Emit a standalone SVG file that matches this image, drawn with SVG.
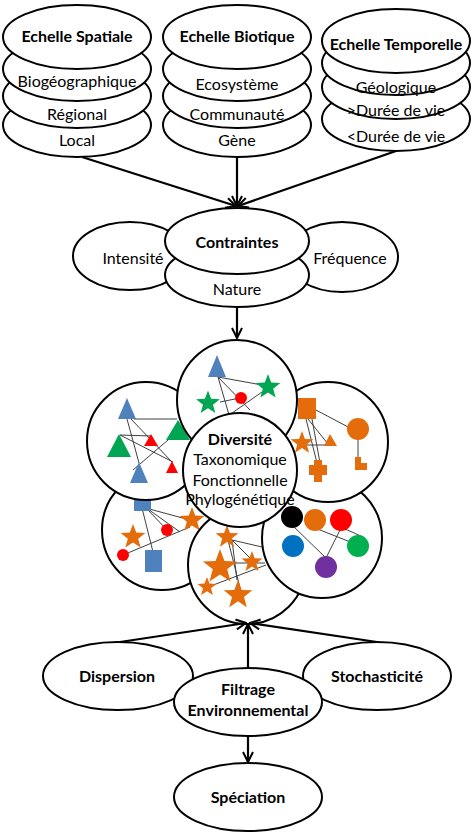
<svg xmlns="http://www.w3.org/2000/svg" xmlns:xlink="http://www.w3.org/1999/xlink" width="474" height="833" viewBox="0 0 474 833">
<style>
  .el { fill: #fff; stroke: #000; stroke-width: 2; }
  .cir { fill: #fff; stroke: #000; stroke-width: 2; }
  .t { font-family: Lato, "Liberation Sans", sans-serif; font-size: 16px; fill: #000; text-anchor: middle; }
  .b { font-weight: bold; }
  .edge { stroke: #000; stroke-width: 2.2; fill: none; marker-end: url(#arr); }
  .ln { stroke: #404040; stroke-width: 1; fill: none; }
  .blue { fill: #4f81bd; }
  .green { fill: #00a651; }
  .red { fill: #ff0000; }
  .orange { fill: #e46c0a; }
</style>
<defs>
  <marker id="arr" viewBox="0 0 12 12" refX="11" refY="6" markerWidth="12" markerHeight="12" markerUnits="userSpaceOnUse" orient="auto">
    <path d="M1,1 L11,6 L1,11" fill="none" stroke="#000" stroke-width="2"/>
  </marker>
  <polygon id="star" points="0,-10 2.47,-3.4 9.51,-3.09 3.99,1.3 5.88,8.09 0,4.2 -5.88,8.09 -3.99,1.3 -9.51,-3.09 -2.47,-3.4"/>
</defs>
<rect width="474" height="833" fill="#fff"/>

<!-- Top stacks -->
<g id="echelle-spatiale">
  <ellipse class="el" cx="77" cy="125" rx="74" ry="32"/>
  <ellipse class="el" cx="77" cy="96" rx="74" ry="32"/>
  <ellipse class="el" cx="77" cy="69" rx="74" ry="32"/>
  <ellipse class="el" cx="77" cy="37" rx="74" ry="32"/>
  <text class="t b" x="77" y="42">Echelle Spatiale</text>
  <text class="t" x="77" y="87">Biogéographique</text>
  <text class="t" x="77" y="120">Régional</text>
  <text class="t" x="77" y="146">Local</text>
</g>
<g id="echelle-biotique">
  <ellipse class="el" cx="237" cy="125" rx="74" ry="32"/>
  <ellipse class="el" cx="237" cy="96" rx="74" ry="32"/>
  <ellipse class="el" cx="237" cy="69" rx="74" ry="32"/>
  <ellipse class="el" cx="237" cy="37" rx="74" ry="32"/>
  <text class="t b" x="237" y="42">Echelle Biotique</text>
  <text class="t" x="237" y="90">Ecosystème</text>
  <text class="t" x="237" y="120">Communauté</text>
  <text class="t" x="237" y="146">Gène</text>
</g>
<g id="echelle-temporelle">
  <ellipse class="el" cx="396" cy="119" rx="74" ry="32"/>
  <ellipse class="el" cx="396" cy="87" rx="74" ry="32"/>
  <ellipse class="el" cx="396" cy="63" rx="74" ry="32"/>
  <ellipse class="el" cx="396" cy="41" rx="74" ry="32"/>
  <text class="t b" x="396" y="50">Echelle Temporelle</text>
  <text class="t" x="396" y="93">Géologique</text>
  <text class="t" x="396" y="116">&gt;Durée de vie</text>
  <text class="t" x="396" y="142">&lt;Durée de vie</text>
</g>

<!-- Contraintes -->
<g id="contraintes">
  <ellipse class="el" cx="130" cy="256" rx="57" ry="34"/>
  <ellipse class="el" cx="342" cy="257" rx="56" ry="35"/>
  <ellipse class="el" cx="237" cy="275" rx="72" ry="32"/>
  <ellipse class="el" cx="237" cy="241" rx="72" ry="33"/>
  <text class="t" x="133" y="264">Intensité</text>
  <text class="t" x="350" y="264">Fréquence</text>
  <text class="t b" x="237" y="248">Contraintes</text>
  <text class="t" x="237" y="295">Nature</text>
</g>

<!-- Diversity cluster -->
<g id="circle-lower-left">
  <circle class="cir" cx="162" cy="530" r="60"/>
  <path class="ln" d="M142,507 L190,520 M145,507 L180,532 M123,555 L190,527 M142,508 L153,552 M148,510 L167,530"/>
  <rect class="blue" x="134" y="494" width="17" height="17"/>
  <use xlink:href="#star" class="orange" transform="translate(133,537) scale(1.3)"/>
  <use xlink:href="#star" class="orange" transform="translate(192,520) scale(1.3)"/>
  <circle class="red" cx="167" cy="530" r="6"/>
  <circle class="red" cx="123" cy="555" r="6"/>
  <rect class="blue" x="145" y="550" width="17" height="22"/>
</g>
<g id="circle-lower-middle">
  <circle class="cir" cx="247" cy="565" r="59"/>
  <path class="ln" d="M232,540 L262,547 M232,540 L252,560 M232,540 L237,580 M228,540 L240,588 M230,563 L265,563 M208,587 L266,565"/>
  <use xlink:href="#star" class="orange" transform="translate(227,537) scale(1.2)"/>
  <use xlink:href="#star" class="orange" transform="translate(220,567) scale(1.8)"/>
  <use xlink:href="#star" class="orange" transform="translate(252,562) scale(1.1)"/>
  <use xlink:href="#star" class="orange" transform="translate(207,587) scale(1.0)"/>
  <use xlink:href="#star" class="orange" transform="translate(238,595) scale(1.5)"/>
</g>
<g id="circle-lower-right">
  <circle class="cir" cx="322" cy="538" r="60"/>
  <path class="ln" d="M315,528 L358,545 M341,528 L326,558 M292,525 L326,558 M343,528 L363,537"/>
  <circle cx="292" cy="517" r="11" fill="#000"/>
  <circle cx="315" cy="520" r="11" fill="#e46c0a"/>
  <circle cx="341" cy="520" r="11" fill="#ff0000"/>
  <circle cx="293" cy="546" r="11" fill="#0070c0"/>
  <circle cx="358" cy="546" r="11" fill="#00b050"/>
  <circle cx="326" cy="567" r="11" fill="#7030a0"/>
</g>
<g id="circle-upper-left">
  <circle class="cir" cx="146" cy="441" r="59"/>
  <path class="ln" d="M134,419 L177,419 M127,419 L139,463 M120,435 L173,462 M120,435 L151,436 M168,440 L133,470 M131,419 L172,462"/>
  <polygon class="blue" points="127,398 118,419 136,419"/>
  <polygon class="green" points="178,420 166,440 190,440"/>
  <polygon class="green" points="119,434 107,457 131,457"/>
  <polygon class="red" points="151,434 144,446 158,446"/>
  <polygon class="red" points="172,461 166,473 178,473"/>
  <polygon class="blue" points="139,462 130,483 148,483"/>
</g>
<g id="circle-upper-right">
  <circle class="cir" cx="328" cy="442" r="60"/>
  <path class="ln" d="M316,410 L350,428 M308,419 L328,444 M306,419 L318,467 M312,419 L320,463 M358,440 L358,460 M300,445 L330,445"/>
  <rect class="orange" x="298" y="398" width="18" height="21"/>
  <circle class="orange" cx="358" cy="429" r="11"/>
  <polygon class="orange" points="330,434 324,446 337,446"/>
  <use xlink:href="#star" class="orange" transform="translate(302,443) scale(1.2)"/>
  <path class="orange" d="M314,460 h8 v5 h5 v10 h-5 v7 h-8 v-7 h-5 v-10 h5 z"/>
  <path class="orange" d="M355,457 h6 v6 h6 v7 h-12 z"/>
</g>
<g id="circle-top">
  <circle class="cir" cx="237" cy="400" r="60"/>
  <path class="ln" d="M218,377 L262,385 M218,377 L250,410 M218,377 L234,432 M220,402 L240,398 M215,425 L262,392"/>
  <polygon class="blue" points="217,355 208,377 226,377"/>
  <use xlink:href="#star" class="green" transform="translate(208,403) scale(1.25)"/>
  <use xlink:href="#star" class="green" transform="translate(268,387) scale(1.3)"/>
  <circle class="red" cx="241" cy="398" r="6"/>
</g>
<g id="diversite">
  <circle class="cir" cx="240" cy="470" r="57"/>
  <text class="t b" x="240" y="445">Diversité</text>
  <text class="t" x="240" y="465">Taxonomique</text>
  <text class="t" x="240" y="486">Fonctionnelle</text>
  <text class="t" x="240" y="505">Phylogénétique</text>
</g>

<!-- Bottom -->
<g id="dispersion">
  <ellipse class="el" cx="118" cy="676" rx="75" ry="34"/>
  <text class="t b" x="117" y="682">Dispersion</text>
</g>
<g id="stochasticite">
  <ellipse class="el" cx="377" cy="676" rx="74" ry="34"/>
  <text class="t b" x="377" y="682">Stochasticité</text>
</g>
<g id="filtrage">
  <ellipse class="el" cx="248" cy="702" rx="74" ry="34"/>
  <text class="t b" x="248" y="695">Filtrage</text>
  <text class="t b" x="248" y="716">Environnemental</text>
</g>
<g id="speciation">
  <ellipse class="el" cx="248" cy="797" rx="74" ry="34"/>
  <text class="t b" x="248" y="803">Spéciation</text>
</g>

<!-- Connectors -->
<g id="connectors">
  <line class="edge" x1="82" y1="157" x2="236" y2="206"/>
  <line class="edge" x1="237" y1="157" x2="237" y2="206"/>
  <line class="edge" x1="396" y1="151" x2="238" y2="206"/>
  <line class="edge" x1="237" y1="307" x2="237" y2="338"/>
  <line class="edge" x1="120" y1="642" x2="246" y2="623"/>
  <line class="edge" x1="377" y1="642" x2="250" y2="623"/>
  <line class="edge" x1="248" y1="668" x2="248" y2="624"/>
  <line class="edge" x1="248" y1="736" x2="248" y2="762"/>
</g>
</svg>
